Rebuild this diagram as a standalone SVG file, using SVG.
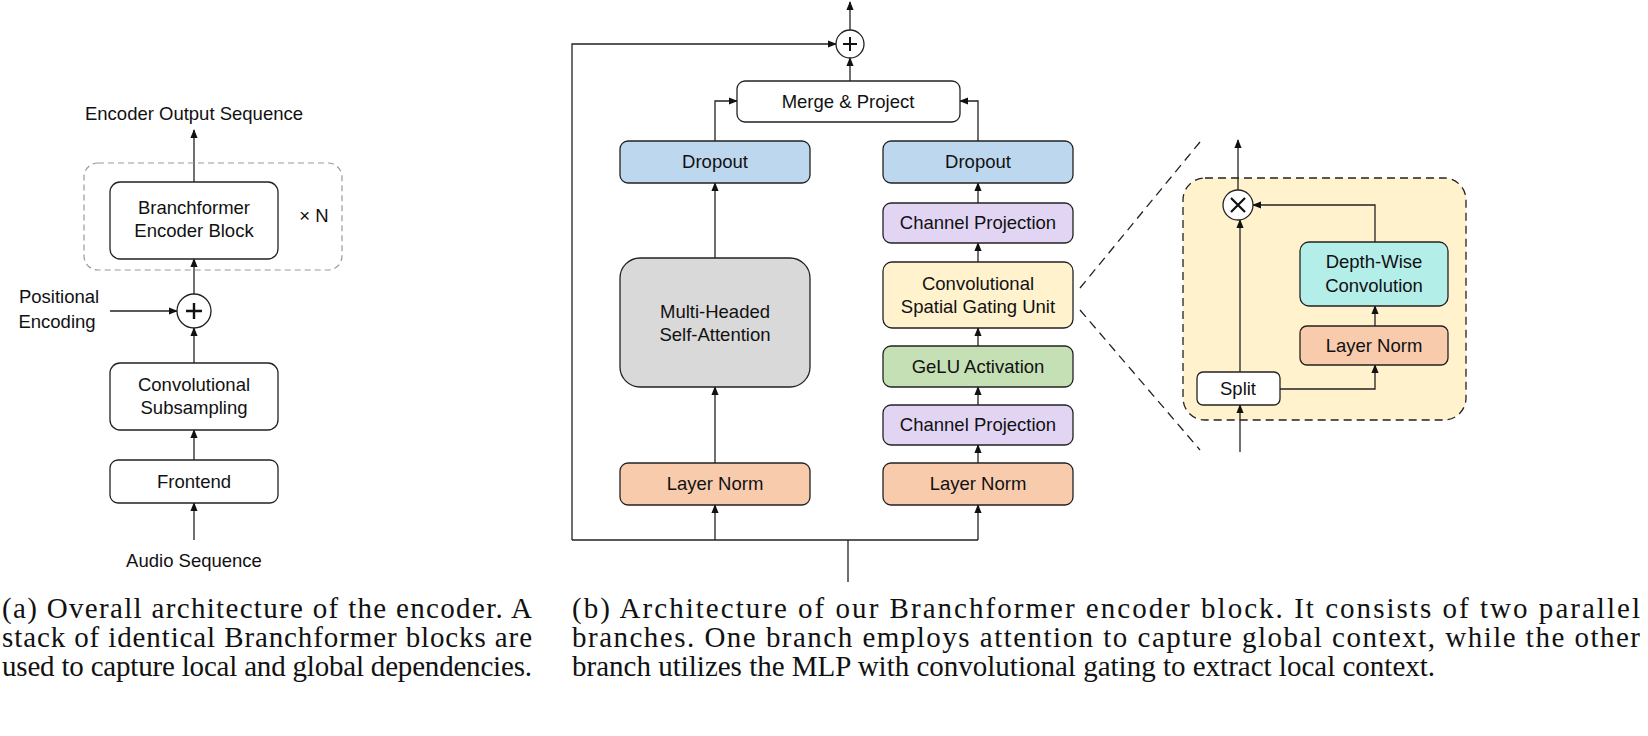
<svg xmlns="http://www.w3.org/2000/svg" width="1648" height="736" viewBox="0 0 1648 736">
<style>
.t{font-family:"Liberation Sans",Arial,sans-serif;font-size:18.5px;fill:#111;text-anchor:middle}
.c{font-family:"Liberation Serif","Times New Roman",serif;font-size:29px;fill:#111}
.b{stroke:#222;stroke-width:1.3}
.l{fill:none;stroke:#222;stroke-width:1.3}
</style>
<defs><marker id="a" viewBox="0 0 10 10" refX="9" refY="5" markerWidth="7" markerHeight="7" orient="auto-start-reverse"><path d="M0,1 L10,5 L0,9 z" fill="#111"/></marker></defs>
<rect width="1648" height="736" fill="#fff"/>
<g id="connectors" class="l" marker-end="url(#a)">
<path d="M194,182 V130"/><path d="M194,294 V259"/><path d="M110,311 H177"/><path d="M194,363 V328"/><path d="M194,460 V430"/><path d="M194,540 V503"/>
<path d="M848,582 V540" marker-end="none"/><path d="M572,540 H978" marker-end="none"/>
<path d="M715,540 V505"/><path d="M978,540 V505"/>
<path d="M572,540 V44 H836"/>
<path d="M715,463 V387"/><path d="M715,258 V183"/><path d="M715,141 V101 H737"/>
<path d="M978,141 V101 H960"/>
<path d="M978,463 V445"/><path d="M978,405 V387"/><path d="M978,346 V328"/><path d="M978,262 V243"/><path d="M978,203 V183"/>
<path d="M850,81 V58"/><path d="M850,30 V2"/>
<path d="M1080,288 L1200,142" stroke-dasharray="9,6" marker-end="none"/><path d="M1080,310 L1200,450" stroke-dasharray="9,6" marker-end="none"/>
</g>
<g id="inset">
<rect x="1183" y="178" width="283" height="242" rx="22" fill="#FFF2CC" stroke="#222" stroke-width="1.3" stroke-dasharray="8,5"/>
<g class="l" marker-end="url(#a)">
<path d="M1238,190 V140"/><path d="M1240,452 V405"/><path d="M1240,372 V220"/><path d="M1280,389 H1375 V365"/><path d="M1375,326 V306"/><path d="M1375,242 V205 H1253"/>
</g>
<g id="mul"><circle cx="1238" cy="205" r="15" fill="#fff" class="b"/><path d="M1231,198 L1245,212 M1245,198 L1231,212" stroke="#111" stroke-width="2.2"/></g>
<g id="split"><rect x="1197" y="372" width="83" height="33" rx="6" fill="#fff" class="b"/><text class="t" x="1238" y="395">Split</text></g>
<g id="ln3"><rect x="1300" y="326" width="148" height="39" rx="7" fill="#F8CBAD" class="b"/><text class="t" x="1374" y="352">Layer Norm</text></g>
<g id="dwc"><rect x="1300" y="242" width="148" height="64" rx="9" fill="#B3EEE9" class="b"/><text class="t" x="1374" y="268">Depth-Wise</text><text class="t" x="1374" y="292">Convolution</text></g>
</g>
<g id="a-part">
<text class="t" x="194" y="120">Encoder Output Sequence</text>
<rect x="84" y="163" width="258" height="107" rx="14" fill="none" stroke="#999" stroke-width="1.2" stroke-dasharray="6,4"/>
<g id="bf"><rect x="110" y="182" width="168" height="77" rx="10" fill="#fff" class="b"/><text class="t" x="194" y="214">Branchformer</text><text class="t" x="194" y="237">Encoder Block</text></g>
<text class="t" x="314" y="222">× N</text>
<g id="pe"><circle cx="194" cy="311" r="17" fill="#fff" class="b"/><path d="M186,311 H202 M194,303 V319" stroke="#111" stroke-width="2.4"/></g>
<text class="t" x="59" y="303">Positional</text><text class="t" x="57" y="328">Encoding</text>
<g id="cs"><rect x="110" y="363" width="168" height="67" rx="10" fill="#fff" class="b"/><text class="t" x="194" y="391">Convolutional</text><text class="t" x="194" y="414">Subsampling</text></g>
<g id="fe"><rect x="110" y="460" width="168" height="43" rx="8" fill="#fff" class="b"/><text class="t" x="194" y="488">Frontend</text></g>
<text class="t" x="194" y="567">Audio Sequence</text>
</g>
<g id="b-part">
<g id="plus"><circle cx="850" cy="44" r="14" fill="#fff" class="b"/><path d="M843,44 H857 M850,37 V51" stroke="#111" stroke-width="2"/></g>
<g id="merge"><rect x="737" y="81" width="223" height="41" rx="8" fill="#fff" class="b"/><text class="t" x="848" y="108">Merge &amp; Project</text></g>
<g id="do1"><rect x="620" y="141" width="190" height="42" rx="8" fill="#BDD7EE" class="b"/><text class="t" x="715" y="168">Dropout</text></g>
<g id="mhsa"><rect x="620" y="258" width="190" height="129" rx="20" fill="#D9D9D9" class="b"/><text class="t" x="715" y="318">Multi-Headed</text><text class="t" x="715" y="341">Self-Attention</text></g>
<g id="ln1"><rect x="620" y="463" width="190" height="42" rx="8" fill="#F8CBAD" class="b"/><text class="t" x="715" y="490">Layer Norm</text></g>
<g id="do2"><rect x="883" y="141" width="190" height="42" rx="8" fill="#BDD7EE" class="b"/><text class="t" x="978" y="168">Dropout</text></g>
<g id="cp2"><rect x="883" y="203" width="190" height="40" rx="8" fill="#E1D5F3" class="b"/><text class="t" x="978" y="229">Channel Projection</text></g>
<g id="csgu"><rect x="883" y="262" width="190" height="66" rx="9" fill="#FFF2CC" class="b"/><text class="t" x="978" y="290">Convolutional</text><text class="t" x="978" y="313">Spatial Gating Unit</text></g>
<g id="gelu"><rect x="883" y="346" width="190" height="41" rx="8" fill="#C5E0B4" class="b"/><text class="t" x="978" y="373">GeLU Activation</text></g>
<g id="cp1"><rect x="883" y="405" width="190" height="40" rx="8" fill="#E1D5F3" class="b"/><text class="t" x="978" y="431">Channel Projection</text></g>
<g id="ln2"><rect x="883" y="463" width="190" height="42" rx="8" fill="#F8CBAD" class="b"/><text class="t" x="978" y="490">Layer Norm</text></g>
</g>
<g id="captions">
<text class="c" x="2" y="618" textLength="530" lengthAdjust="spacing">(a) Overall architecture of the encoder.  A</text>
<text class="c" x="2" y="647" textLength="530" lengthAdjust="spacing">stack of identical Branchformer blocks are</text>
<text class="c" x="2" y="676" textLength="530" lengthAdjust="spacing">used to capture local and global dependencies.</text>
<text class="c" x="572" y="618" textLength="1068" lengthAdjust="spacing">(b) Architecture of our Branchformer encoder block.  It consists of two parallel</text>
<text class="c" x="572" y="647" textLength="1068" lengthAdjust="spacing">branches. One branch employs attention to capture global context, while the other</text>
<text class="c" x="572" y="676">branch utilizes the MLP with convolutional gating to extract local context.</text>
</g>
</svg>
